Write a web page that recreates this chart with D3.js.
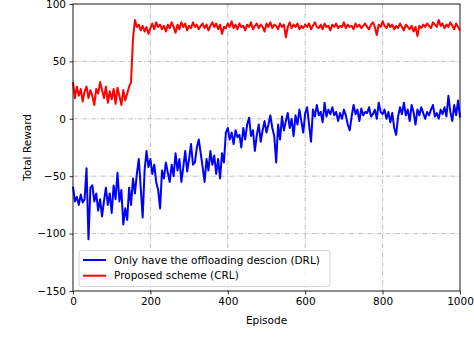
<!DOCTYPE html>
<html><head><meta charset="utf-8">
<script src="https://cdn.jsdelivr.net/npm/d3@7"></script>
<style>html,body{margin:0;padding:0;background:#fff;}svg{display:block;font-family:"DejaVu Sans",sans-serif;}</style>
</head><body>
<svg id="c" width="474" height="350"></svg>
<script>
const xTicks = [0, 200, 400, 600, 800, 1000];
const yTicks = [-150, -100, -50, 0, 50, 100];
const seriesNames = ["Only have the offloading descion (DRL)", "Proposed scheme (CRL)"];
const seriesColors = ["#0000ff", "#ff0000"];
const episodes = d3.range(0, 1001, 5);
const drl = [
-59,-72,-68,-75,-66,-73,-70,-43,-105,-60,-58,-72,-65,-80,-70,-85,-72,-60,-75,-65,
-82,-58,-70,-47,-72,-62,-92,-78,-88,-60,-75,-52,-65,-48,-35,-60,-86,-45,-28,-42,
-35,-48,-40,-55,-62,-78,-45,-52,-38,-47,-55,-40,-50,-30,-45,-35,-55,-42,-28,-46,
-35,-22,-40,-38,-25,-18,-30,-42,-55,-35,-45,-28,-40,-32,-48,-35,-52,-30,-38,-12,
-8,-18,-12,-22,-10,-16,-14,-25,-8,-18,-5,1,-15,-10,-28,-14,-5,-20,-10,-2,
-12,-5,3,-8,-15,-38,-5,-18,2,-10,-2,5,-8,0,-15,3,-5,8,-2,-12,
5,10,-5,-20,8,2,12,3,6,-3,14,2,8,4,10,3,6,-2,5,0,
8,3,-5,-10,2,12,4,8,-2,9,3,6,5,10,2,4,8,0,14,6,
4,8,0,6,-3,5,-8,-14,2,10,4,14,3,8,-2,12,6,-5,8,3,
10,5,0,6,3,8,12,2,5,0,8,4,10,2,20,6,-2,12,3,16,
1];
const crl = [
32,18,28,20,26,15,24,28,18,25,20,12,26,22,32,25,18,28,14,24,
17,26,13,27,20,12,25,16,22,28,32,70,86,80,82,77,81,76,80,74,
79,83,78,84,80,82,78,81,76,82,79,84,80,75,82,78,84,80,83,77,
81,79,84,80,82,78,81,83,79,82,77,81,84,80,83,78,82,74,80,79,
83,80,85,79,82,78,83,80,81,77,82,80,84,78,81,83,79,82,80,76,
83,80,84,79,82,81,78,83,80,82,71,80,84,79,82,80,83,78,81,79,
82,80,83,78,81,84,80,79,82,78,83,80,81,77,82,80,83,79,81,80,
84,79,82,80,81,78,83,80,82,79,81,83,80,78,82,84,80,73,82,80,
85,81,79,83,80,82,78,81,79,83,80,77,82,80,78,81,76,80,72,81,
79,82,80,83,81,79,84,82,80,86,81,83,79,82,80,84,81,78,83,80,
77];

const svg = d3.select("#c");
const m = {l:73, t:4, r:460, b:291};
const x = d3.scaleLinear().domain([0,1000]).range([m.l, m.r]);
const y = d3.scaleLinear().domain([-150,100]).range([m.b, m.t]);

// grid
const g = svg.append("g");
g.selectAll(".gx").data(xTicks.slice(1,-1)).enter().append("line")
  .attr("x1", d=>x(d)).attr("x2", d=>x(d)).attr("y1", m.t).attr("y2", m.b)
  .attr("stroke", "#b0b0b0").attr("stroke-width", 0.8).attr("stroke-dasharray", "5,1.6,1,1.6");
g.selectAll(".gy").data(yTicks.slice(1,-1)).enter().append("line")
  .attr("y1", d=>y(d)).attr("y2", d=>y(d)).attr("x1", m.l).attr("x2", m.r)
  .attr("stroke", "#b0b0b0").attr("stroke-width", 0.8).attr("stroke-dasharray", "5,1.6,1,1.6");

const line = d3.line().x((d,i)=>x(episodes[i])).y(d=>y(d));
svg.append("path").datum(drl).attr("d", line).attr("fill","none")
  .attr("stroke", seriesColors[0]).attr("stroke-width", 2).attr("stroke-linejoin","round");
svg.append("path").datum(crl).attr("d", line).attr("fill","none")
  .attr("stroke", seriesColors[1]).attr("stroke-width", 2).attr("stroke-linejoin","round");

// axes
const fmt = d => d < 0 ? "\u2212" + Math.abs(d) : String(d);
const xa = svg.append("g").attr("transform", `translate(0,${m.b})`)
  .call(d3.axisBottom(x).tickValues(xTicks).tickFormat(fmt).tickSize(3.5).tickPadding(3.5));
const ya = svg.append("g").attr("transform", `translate(${m.l},0)`)
  .call(d3.axisLeft(y).tickValues(yTicks).tickFormat(fmt).tickSize(3.5).tickPadding(3.5));
[xa, ya].forEach(a => {
  a.select(".domain").remove();
  a.selectAll("text").attr("font-family", "DejaVu Sans").attr("font-size", "10.5px").attr("fill", "#000");
  a.selectAll("line").attr("stroke", "#000").attr("stroke-width", 0.8);
});
svg.append("rect").attr("x", m.l).attr("y", m.t).attr("width", m.r-m.l).attr("height", m.b-m.t)
  .attr("fill","none").attr("stroke","#000").attr("stroke-width",0.9);

// labels
svg.append("text").attr("x", (m.l+m.r)/2).attr("y", 324).attr("text-anchor","middle")
  .attr("font-size","10.5px").text("Episode");
svg.append("text").attr("transform", `translate(31,${(m.t+m.b)/2}) rotate(-90)`)
  .attr("text-anchor","middle").attr("font-size","10.5px").text("Total Reward");

// legend
const lg = svg.append("g");
lg.append("rect").attr("x", 79).attr("y", 250.5).attr("width", 251).attr("height", 36).attr("rx", 2.5)
  .attr("fill", "#fff").attr("fill-opacity", 0.8).attr("stroke", "#cccccc").attr("stroke-width", 0.8);
seriesNames.forEach((n,i) => {
  const cy = 260 + i*15.7;
  lg.append("line").attr("x1", 83).attr("x2", 106).attr("y1", cy).attr("y2", cy)
    .attr("stroke", seriesColors[i]).attr("stroke-width", 2);
  lg.append("text").attr("x", 114).attr("y", cy).attr("dy", "0.35em").attr("font-size", "10.5px").text(n);
});
</script>
</body></html>
